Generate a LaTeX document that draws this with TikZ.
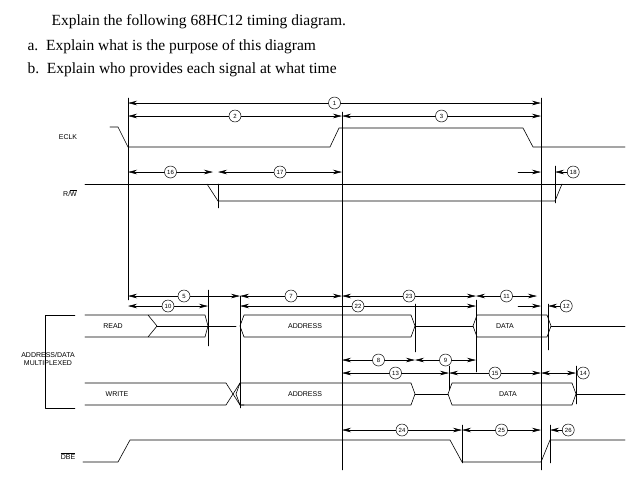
\documentclass[tikz,border=0pt]{standalone}
\usepackage{fontspec}
\setmainfont{Liberation Serif}
\setsansfont{Liberation Sans}
\usetikzlibrary{arrows.meta}
\tikzset{
    sig/.style={line width=0.6pt},
    tim/.style={<->,>={Stealth[length=9pt,width=4.5pt]},line width=0.5pt},
    num/.style={circle,draw,fill=white,inner sep=0.6pt,minimum size=12pt,font=\sffamily\fontsize{6}{7}\selectfont},
    lbl/.style={font=\sffamily\fontsize{7}{8}\selectfont}
}
% bus box: left x, right x, middle y
\newcommand{\busbox}[3]{\draw[sig] (#1,#3) -- (#1+4,#3-11) -- (#2-4,#3-11) -- (#2,#3) -- (#2-4,#3+11) -- (#1+4,#3+11) -- cycle;}
\begin{document}
\begin{tikzpicture}[line cap=round,line join=round,x=1pt,y=-1pt]
\useasboundingbox (0,0) rectangle (642,496);
\node[anchor=base west,font=\fontsize{15.5}{18}\selectfont] at (48,25) {Explain the following 68HC12 timing diagram.};
\node[anchor=base west,font=\fontsize{15.5}{18}\selectfont] at (24,50) {a.\enspace Explain what is the purpose of this diagram};
\node[anchor=base west,font=\fontsize{15.5}{18}\selectfont] at (24,73) {b.\enspace Explain who provides each signal at what time};
% reference lines
\draw (128,98) -- (128,300);
\draw (342,112) -- (342,470);
\draw (541,98) -- (541,470);
\draw (208,290) -- (208,346);
\draw (240,296) -- (240,408);
\draw (476,300) -- (476,372);
\draw (548,304) -- (548,350);
\draw (415,304) -- (415,352);
\draw (449,366) -- (449,390);
\draw (576,366) -- (576,404);
\draw (462,425) -- (462,463);
\draw (550,425) -- (550,463);
\draw (218,184) -- (218,208);
\draw (555,166) -- (555,203);
% signal names
\node[lbl] at (68,137) {ECLK};
\node[lbl] at (70,193) {R/$\overline{\hbox{W}}$};
\node[lbl] at (113,326) {READ};
\node[lbl] at (117,394) {WRITE};
\node[lbl] at (305,326) {ADDRESS};
\node[lbl] at (305,394) {ADDRESS};
\node[lbl] at (505,326) {DATA};
\node[lbl] at (508,394) {DATA};
\node[lbl] at (68,456) {$\overline{\hbox{DBE}}$};
\node[lbl,align=center] at (48,359) {ADDRESS/DATA\\MULTIPLEXED};
\draw (75,315) -- (45,315) -- (45,408) -- (75,408);
% waveforms
\draw[sig] (110,127) -- (118,127) -- (128,147) -- (330,147) -- (339,128) -- (523,128) -- (533,147) -- (625,147);
\draw[sig] (85,184) -- (625,184);
\draw[sig] (207,184) -- (218,201) -- (555,201) -- (562,184);
\draw[sig] (85,315) -- (205,315) -- (208,326) -- (205,337) -- (85,337);
\draw[sig] (148,315) -- (157,326) -- (148,337);
\draw[sig] (157,326) -- (236,326);
\busbox{240}{415}{326}
\draw[sig] (415,326) -- (473,326);
\busbox{473}{551}{326}
\draw[sig] (551,326) -- (625,326);
\draw[sig] (85,383) -- (226,383) -- (240,405) -- (244,405);
\draw[sig] (85,405) -- (226,405) -- (240,383);
\busbox{236}{415}{394}
\draw[sig] (415,394) -- (448,394);
\busbox{448}{576}{394}
\draw[sig] (576,394) -- (625,394);
\draw[sig] (83,462) -- (118,462) -- (130,440) -- (450,440) -- (462,462) -- (541,462) -- (550,440) -- (625,440);
% timing arrows
\foreach \xa/\xb/\y/\n in {128/541/103/1, 128/342/116/2, 342/541/116/3,
    128/213/172/16, 218/342/172/17,
    128/240/296/5, 240/342/296/7, 342/476/296/23, 476/537/296/11,
    128/208/306/10, 240/476/306/22,
    342/415/360/8, 415/476/360/9, 342/449/373/13, 449/541/373/15,
    342/462/430/24, 462/541/430/25}
    \draw[tim] (\xa,\y) -- node[num] {\n} (\xb,\y);
\draw[tim,<-] (541,172) -- (518,172);
\draw[tim,<-] (555,172) -- (568,172) node[num,right=-1pt] {18};
\draw[tim,<-] (541,306) -- (518,306);
\draw[tim,<-] (548,306) -- (561,306) node[num,right=-1pt] {12};
\draw[tim] (541,373) -- (576,373) node[num,right=1pt] {14};
\draw[tim,<-] (550,430) -- (563,430) node[num,right=-1pt] {26};
\end{tikzpicture}
\end{document}
